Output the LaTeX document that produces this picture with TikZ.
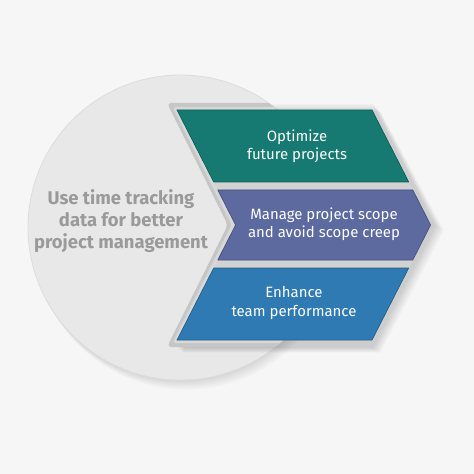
\documentclass[tikz,border=0pt]{standalone}
\usepackage{fontspec}
\setmainfont{Fira Sans}
\definecolor{bgc}{HTML}{F6F6F6}
\definecolor{circc}{HTML}{E8E8E8}
\definecolor{circe}{HTML}{DDDDDD}
\definecolor{slotc}{HTML}{C6C6C6}
\definecolor{sloti}{HTML}{D8D8D8}
\definecolor{gapc}{HTML}{D2D2D2}
\definecolor{tealc}{HTML}{167A72}
\definecolor{teald}{HTML}{0F5E58}
\definecolor{purpc}{HTML}{5C6AA0}
\definecolor{purpd}{HTML}{46517F}
\definecolor{bluec}{HTML}{2F7AB3}
\definecolor{blued}{HTML}{225E8C}
\definecolor{leftt}{HTML}{9A9A9A}
\tikzset{
  piece/.style={line width=0.7pt, line join=round},
  wtext/.style={text=white, align=center, font=\fontsize{15}{18.5}\selectfont, inner sep=0pt},
  gtext/.style={text=leftt, align=center, font=\fontsize{18.5}{22}\selectfont\bfseries, inner sep=0pt},
}
\begin{document}
\begin{tikzpicture}[x=1bp,y=-1bp]
\useasboundingbox (0,0) rectangle (474,474);
\fill[bgc] (0,0) rectangle (474,474);
% shadow of circle
\foreach \s in {2,4,...,12}{
  \fill[black, opacity=0.018] (180.5+0.5*\s,227.5+0.8*\s) circle (152.5);
}
% circle
\fill[circc] (180.5,227.5) circle (152.5);
\draw[circe, line width=0.8pt] (180.5,227.5) circle (152.5);
% shadows of chevron
\foreach \s in {1,...,7}{
  \fill[black, opacity=0.025] (177+1.2*\s,103+1.2*\s) -- (372+1.2*\s,103+1.2*\s) -- (434+1.4*\s,225+0.8*\s) -- (372+1.2*\s,347+0.8*\s) -- (177+0.8*\s,347+0.8*\s) -- (238+0.8*\s,225) -- cycle;
}
% slot inside circle
\begin{scope}
  \clip (180.5,227.5) circle (152.5);
  \fill[slotc, rounded corners=4] (167,103) -- (340,103) -- (340,347) -- (167,347) -- (227.8,225) -- cycle;
  \fill[sloti, rounded corners=3] (172.5,107) -- (340,107) -- (340,343) -- (172.5,343) -- (231.5,225) -- cycle;
\end{scope}
% gaps
\fill[gapc] (213.7,182) -- (408.7,182) -- (412.8,190) -- (217.8,190) -- cycle;
\fill[gapc] (217.8,260) -- (412.8,260) -- (408.7,268) -- (213.7,268) -- cycle;
% pieces
\coordinate (t1) at (177,110);
\coordinate (t2) at (372,110);
\coordinate (t3) at (408.7,182);
\coordinate (t4) at (213.7,182);
\coordinate (m1) at (217.8,190);
\coordinate (m2) at (412.8,190);
\coordinate (m3) at (430.6,225);
\coordinate (m4) at (412.8,260);
\coordinate (m5) at (217.8,260);
\coordinate (m6) at (235.6,225);
\coordinate (b1) at (213.7,268);
\coordinate (b2) at (408.7,268);
\coordinate (b3) at (372,340);
\coordinate (b4) at (177,340);
\filldraw[piece, fill=tealc, draw=teald] (t1) -- (t2) -- (t3) -- (t4) -- cycle;
\filldraw[piece, fill=purpc, draw=purpd] (m1) -- (m2) -- (m3) -- (m4) -- (m5) -- (m6) -- cycle;
\filldraw[piece, fill=bluec, draw=blued] (b1) -- (b2) -- (b3) -- (b4) -- cycle;
% texts
\node[gtext] (lt) at (121,221) {Use time tracking\\data for better\\project management};
\node[wtext] (tt) at (297,146) {Optimize\\future projects};
\node[wtext] (mt) at (324,224) {Manage project scope\\and avoid scope creep};
\node[wtext] (bt) at (294,303) {Enhance\\team performance};
\end{tikzpicture}
\end{document}
